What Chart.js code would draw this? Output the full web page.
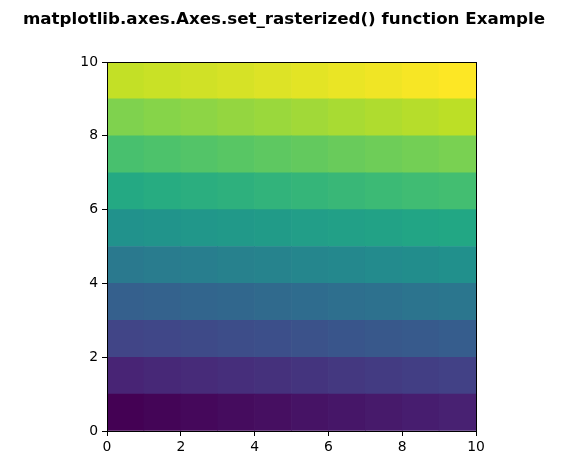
<!DOCTYPE html>
<html>
<head>
<meta charset="utf-8">
<script src="https://cdn.jsdelivr.net/npm/chart.js@4.4.0/dist/chart.umd.min.js"></script>
<style>
  body { margin: 0; background: #fff; }
</style>
</head>
<body>
<canvas id="myChart" width="568" height="470"></canvas>
<script>
// cell edges on each axis
var xEdges = [0, 1, 2, 3, 4, 5, 6, 7, 8, 9, 10];
var yEdges = [0, 1, 2, 3, 4, 5, 6, 7, 8, 9, 10];
var tickStep = 2;

// one list of cell values per row, bottom row first
var cellValues = [
    [0, 1, 2, 3, 4, 5, 6, 7, 8, 9],
    [10, 11, 12, 13, 14, 15, 16, 17, 18, 19],
    [20, 21, 22, 23, 24, 25, 26, 27, 28, 29],
    [30, 31, 32, 33, 34, 35, 36, 37, 38, 39],
    [40, 41, 42, 43, 44, 45, 46, 47, 48, 49],
    [50, 51, 52, 53, 54, 55, 56, 57, 58, 59],
    [60, 61, 62, 63, 64, 65, 66, 67, 68, 69],
    [70, 71, 72, 73, 74, 75, 76, 77, 78, 79],
    [80, 81, 82, 83, 84, 85, 86, 87, 88, 89],
    [90, 91, 92, 93, 94, 95, 96, 97, 98, 99]
];

// viridis stops
var viridis = ['#440154', '#482475', '#414487', '#355f8d', '#2a788e', '#21918c',
               '#22a884', '#44bf70', '#7ad151', '#bddf26', '#fde725'];

function hexRgb(h) {
    return [parseInt(h.substr(1, 2), 16), parseInt(h.substr(3, 2), 16), parseInt(h.substr(5, 2), 16)];
}

function viridisColor(t) {
    t = Math.max(0, Math.min(1, t));
    var pos = t * (viridis.length - 1);
    var i = Math.min(Math.floor(pos), viridis.length - 2);
    var f = pos - i;
    var a = hexRgb(viridis[i]), b = hexRgb(viridis[i + 1]);
    var c = a.map(function (v, k) { return Math.round(v + (b[k] - v) * f); });
    return 'rgb(' + c.join(',') + ')';
}

var allVals = [].concat.apply([], cellValues);
var vmin = Math.min.apply(null, allVals);
var vmax = Math.max.apply(null, allVals);

var datasets = cellValues.map(function (row, r) {
    return {
        data: row.map(function (v, c) {
            return { x: (xEdges[c] + xEdges[c + 1]) / 2, y: [yEdges[r], yEdges[r + 1]] };
        }),
        backgroundColor: row.map(function (v) { return viridisColor((v - vmin) / (vmax - vmin)); }),
        borderWidth: 0,
        grouped: false,
        barPercentage: 1,
        categoryPercentage: 1
    };
});

// closes the frame on top and right
var frame = {
    id: 'frame',
    afterDraw: function (chart) {
        var a = chart.chartArea, ctx = chart.ctx;
        ctx.save();
        ctx.strokeStyle = '#000';
        ctx.lineWidth = 1;
        ctx.strokeRect(Math.round(a.left) + 0.5, Math.round(a.top) + 0.5,
                       Math.round(a.right - a.left), Math.round(a.bottom - a.top));
        ctx.restore();
    }
};

var tickFont = { family: 'DejaVu Sans', size: 13.9 };

var ctx = document.getElementById('myChart').getContext('2d');
var myChart = new Chart(ctx, {
    type: 'bar',
    data: { datasets: datasets },
    plugins: [frame],
    options: {
        responsive: false,
        animation: false,
        layout: { padding: 0 },
        plugins: {
            legend: { display: false },
            tooltip: { enabled: false },
            title: {
                display: true,
                align: 'center',
                text: 'matplotlib.axes.Axes.set_rasterized() function Example',
                color: '#000',
                font: { family: 'DejaVu Sans', size: 16.7, weight: 'bold', lineHeight: 1.2 },
                padding: { top: 10, bottom: 32 }
            }
        },
        scales: {
            x: {
                type: 'linear',
                min: 0,
                max: 10,
                offset: false,
                afterFit: function (s) { s.height = 39; },
                grid: { offset: false, drawOnChartArea: false, drawTicks: true, tickLength: 5, tickColor: '#000' },
                border: { display: true, color: '#000', width: 1 },
                ticks: { color: '#000', font: tickFont, padding: 3, maxRotation: 0, stepSize: tickStep, autoSkip: false }
            },
            y: {
                type: 'linear',
                min: 0,
                max: 10,
                afterFit: function (s) { s.width = 107; },
                grid: { offset: false, drawOnChartArea: false, drawTicks: true, tickLength: 5, tickColor: '#000' },
                border: { display: true, color: '#000', width: 1 },
                ticks: { color: '#000', font: tickFont, padding: 4, stepSize: tickStep, autoSkip: false }
            },
            // empty space right of the axes
            yRight: {
                type: 'linear',
                position: 'right',
                display: true,
                afterFit: function (s) { s.width = 92; },
                grid: { display: false },
                border: { display: false },
                ticks: { display: false }
            }
        }
    }
});
</script>
</body>
</html>
